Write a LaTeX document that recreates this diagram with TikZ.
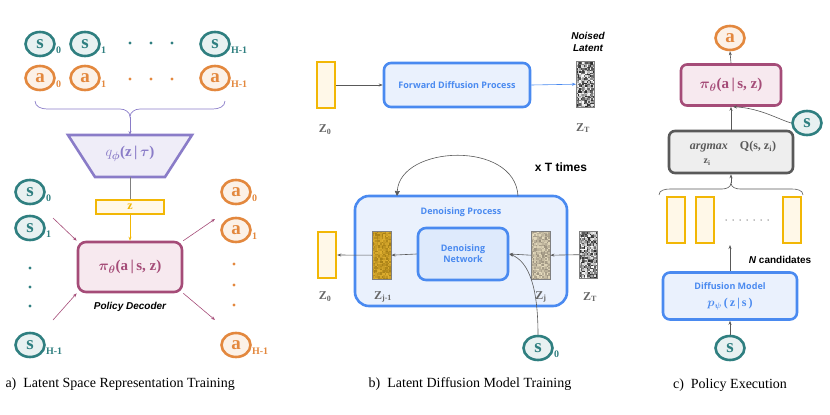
\documentclass[tikz,border=0pt]{standalone}
\usepackage{amsmath}
\usepackage{fontspec}
\setmainfont{Liberation Serif}
\newfontfamily\sansf{Open Sans}
\newfontfamily\arialf{Liberation Sans}
\usetikzlibrary{arrows.meta,shapes.geometric}
\definecolor{teal}{HTML}{2F7F80}\definecolor{tealf}{HTML}{E8F1F1}
\definecolor{org}{HTML}{E3883E}\definecolor{orgf}{HTML}{FCF1E7}
\definecolor{purp}{HTML}{8A7CC8}\definecolor{purpf}{HTML}{EFEDF8}
\definecolor{yel}{HTML}{F2B705}\definecolor{yelf}{HTML}{FFF8E8}
\definecolor{pink}{HTML}{A54C78}\definecolor{pinkf}{HTML}{F7E9EF}
\definecolor{blu}{HTML}{4A8AF0}\definecolor{bluf}{HTML}{EAF1FD}
\definecolor{gryf}{HTML}{EEEEEE}
\definecolor{gold}{HTML}{E0B030}\definecolor{golddk}{HTML}{9A7410}
\definecolor{beige}{HTML}{E8DEC0}\definecolor{beigedk}{HTML}{8A8070}
\newcommand\noiseimg[7]{% x y w h light dark name
  \foreach \i in {0,...,11}{\foreach \j in {0,...,31}{%
    \pgfmathsetmacro\rr{int(rnd*85)}%
    \fill[#6!\rr!#5] ({#1+\i*#3/12},{#2+\j*#4/32}) rectangle ++({#3/12+0.05},{#4/32+0.05});}}%
  \node[draw=gray,line width=0.4pt,minimum width=#3pt,minimum height=#4pt,anchor=north west,inner sep=0] (#7) at (#1,#2) {};}
\tikzset{
 sn/.style={ellipse,draw=teal,fill=tealf,line width=2.6pt,minimum width=29pt,minimum height=24pt,inner sep=0,text=teal,font=\bfseries\fontsize{19}{19}\selectfont},
 an/.style={ellipse,draw=org,fill=orgf,line width=2.6pt,minimum width=29pt,minimum height=24pt,inner sep=0,text=org,font=\bfseries\fontsize{19}{19}\selectfont},
 ssub/.style={anchor=west,text=teal,font=\bfseries\normalsize,inner sep=0},
 asub/.style={anchor=west,text=org,font=\bfseries\normalsize,inner sep=0},
 dt/.style={circle,fill=#1,inner sep=0,minimum size=3.4pt},
 ar/.style={-{Stealth[length=4pt,width=3pt]},line width=0.6pt},
 zbar/.style={draw=yel,fill=yelf,line width=2.4pt,minimum width=18pt,minimum height=46pt,inner sep=0},
 zlab/.style={text=gray!80!black,font=\bfseries\large},
 captxt/.style={font=\fontsize{14}{16}\selectfont},
 mth/.style={font=\fontsize{15}{15}\selectfont},
}
\begin{document}
\begin{tikzpicture}[x=1pt,y=-1pt]
\useasboundingbox (0,0) rectangle (830,415);
\pgfmathsetseed{7}
%%%%% Panel a
\foreach \n/\x/\t in {0/40/0,1/85/1,H/215/H-1}{
  \node[sn] (s\n) at (\x,44) {s};
  \node[ssub] (ss\n) at ([xshift=0pt,yshift=-6pt]s\n.east) {\t};
  \node[an] (a\n) at (\x,78) {a};
  \node[asub] (as\n) at ([xshift=0pt,yshift=-6pt]a\n.east) {\t};}
\foreach \x [count=\k] in {130,151,172}{\node[dt=teal] (ds\k) at (\x,43){};\node[dt=org] (da\k) at (\x,79){};}
\draw[purp,line width=0.7pt] (35,101) to[out=-90,in=180] (47,109) -- (120,109) to[out=0,in=90] (130,117) to[out=90,in=180] (140,109) -- (213,109) to[out=0,in=-90] (225,101);
\coordinate (bt) at (130,117);
\draw[draw=purp,fill=purpf,line width=2.6pt,line join=miter] (68,135) -- (192,135) -- (165,177) -- (95,177) -- cycle;
\coordinate (encN) at (130,135);\coordinate (encS) at (130,177);
\node[text=purp,mth] (encl) at (130,154) {$q_{\boldsymbol\phi}$\textbf{(z\,|\,}$\boldsymbol\tau$\textbf{)}};
\draw[ar,purp] (bt) -- (encN);
\node[draw=yel,fill=yelf,line width=2.4pt,minimum width=68pt,minimum height=14pt,inner sep=0,text=yel,font=\bfseries\large] (zz) at (130,207) {z};
\draw[gray,line width=0.6pt] (encS) -- (zz.north);
\node[draw=pink,fill=pinkf,line width=2.6pt,rounded corners=8pt,minimum width=104pt,minimum height=50pt,text=pink,mth] (pol) at (130,267) {{\boldmath$\pi_\theta$}\textbf{(a\,|\,s, z)}};
\draw[ar,yel] (zz.south) -- (pol.north);
\node[font=\arialf\bfseries\itshape] (pdl) at (130,307) {Policy Decoder};
\node[sn] (ls0) at (30,192) {s};\node[ssub] (lss0) at ([yshift=-6pt]ls0.east){0};
\node[sn] (ls1) at (30,228) {s};\node[ssub] (lss1) at ([yshift=-6pt]ls1.east){1};
\node[sn] (lsH) at (30,345) {s};\node[ssub] (lssH) at ([yshift=-6pt]lsH.east){H-1};
\node[an] (ra0) at (236,192) {a};\node[asub] (ras0) at ([yshift=-6pt]ra0.east){0};
\node[an] (ra1) at (236,230) {a};\node[asub] (ras1) at ([yshift=-6pt]ra1.east){1};
\node[an] (raH) at (236,345) {a};\node[asub] (rasH) at ([yshift=-6pt]raH.east){H-1};
\foreach \y [count=\k] in {268,287,306}{\node[dt=teal] (lds\k) at (30,\y){};}
\foreach \y [count=\k] in {264,285,305}{\node[dt=org] (rda\k) at (234,\y){};}
\coordinate (p1) at (53,218);\coordinate (p2) at (53,320);\coordinate (p3) at (215,219);\coordinate (p4) at (215,320);
\draw[ar,pink] (p1) -- (pol.north west);
\draw[ar,pink] (p2) -- (pol.south west);
\draw[ar,pink] (pol.north east) -- (p3);
\draw[ar,pink] (pol.south east) -- (p4);
\node[captxt,anchor=west] (capa) at (2,384) {a)\ \ Latent Space Representation Training};
%%%%% Panel b
\node[zbar] (z0a) at (326,85) {};
\node[zlab] (z0al) at (325,130) {Z\textsubscript{0}};
\node[draw=blu,fill=bluf,line width=2.6pt,rounded corners=7pt,minimum width=146pt,minimum height=44pt,text=blu,font=\sansf\bfseries\small] (fwd) at (457,85) {Forward Diffusion Process};
\noiseimg{576}{61}{18}{46}{white}{black}{nT}
\node[font=\arialf\bfseries\itshape,align=center] (nl) at (588,42) {Noised\\Latent};
\node[zlab] (zTal) at (583,128) {Z\textsubscript{T}};
\draw[ar,gray!70!black] (z0a.east) -- (fwd.west);
\draw[ar,blu] (fwd.east) -- (nT.west);
\node[draw=blu,fill=bluf,line width=2.6pt,rounded corners=14pt,minimum width=212pt,minimum height=110pt] (dp) at (461,251) {};
\node[text=blu,font=\sansf\bfseries\small] (dpl) at (461,212) {Denoising Process};
\node[draw=blu,fill=blu!18!white,line width=2.6pt,rounded corners=8pt,minimum width=90pt,minimum height=52pt,text=blu,font=\sansf\bfseries\small,align=center] (dn) at (463,254) {Denoising\\Network};
\node[zbar] (z0b) at (327,255) {};
\noiseimg{372}{231}{19}{48}{gold}{golddk}{zj1}
\noiseimg{531}{231}{19}{48}{beige}{beigedk}{zj}
\noiseimg{579}{231}{18}{47}{white}{black}{zT2}
\node[zlab] (l1) at (325,297) {Z\textsubscript{0}};
\node[zlab] (l2) at (383,297) {Z\textsubscript{j-1}};
\node[zlab] (l3) at (541,297) {Z\textsubscript{j}};
\node[zlab] (l4) at (590,297) {Z\textsubscript{T}};
\draw[ar,gray!70!black] (zT2.west) -- (zj.east);
\draw[ar,gray!70!black] (zj.west) -- (dn.east);
\draw[ar,gray!70!black] (dn.west) -- (zj1.east);
\draw[ar,gray!70!black] (zj1.west) -- (z0b.east);
\coordinate (lp1) at (518,196);\coordinate (lp2) at (397,196);
\draw[-{Triangle[length=5pt,width=5pt]},gray!70!black,line width=0.6pt] (lp1) .. controls (515,140) and (400,145) .. (lp2);
\node[font=\arialf\bfseries\large] (xt) at (561,167) {x T times};
\node[sn] (bs0) at (538,348) {s};\node[ssub] (bss0) at ([yshift=-6pt]bs0.east){0};
\draw[ar,gray!70!black] (bs0.north) .. controls (538,290) and (530,262) .. (dn.east);
\node[captxt] (capb) at (470,384) {b)\ \ Latent Diffusion Model Training};
%%%%% Panel c
\node[an] (ca) at (730,38) {a};
\node[draw=pink,fill=pinkf,line width=2.6pt,rounded corners=6pt,minimum width=100pt,minimum height=41pt,text=pink,mth] (cpol) at (731,85) {{\boldmath$\pi_\theta$}\textbf{(a\,|\,s, z)}};
\node[sn] (cs) at (807,123) {s};
\node[draw=gray!70!black,fill=gryf,line width=2.6pt,rounded corners=6pt,minimum width=124pt,minimum height=42pt] (am) at (731,152) {};
\node[text=gray!70!black,font=\large] (amt) at (733,147) {\textbf{\textit{argmax}}\quad \textbf{Q(s, z\textsubscript{i})}};
\node[text=gray!70!black,font=\normalsize\bfseries] (amz) at (707,162) {z\textsubscript{i}};
\draw[ar,gray!70!black] (cpol.north) -- (ca.south);
\draw[ar,gray!70!black] (am.north) -- (cpol.south);
\draw[ar,gray!70!black] (cs.west) .. controls (780,120) and (760,108) .. ([xshift=2pt]cpol.south);
\draw[gray!70!black,line width=0.6pt] (659,195) to[out=90,in=180] (670,189) -- (722,189) to[out=0,in=-90] (731,183) to[out=-90,in=180] (740,189) -- (792,189) to[out=0,in=90] (803,195);
\coordinate (cb) at (731,183);
\draw[ar,gray!70!black] (cb) -- (am.south);
\node[zbar] (c1) at (676,220) {};
\node[zbar] (c2) at (705,220) {};
\node[zbar] (c3) at (792,220) {};
\foreach \x [count=\k] in {726,733,740,747,754,761,768}{\node[circle,fill=gray,inner sep=0,minimum size=1.5pt] (cd\k) at (\x,220){};}
\node[draw=blu,fill=bluf,line width=2.6pt,rounded corners=7pt,minimum width=134pt,minimum height=47pt] (dm) at (730,296) {};
\node[text=blu,font=\sansf\bfseries\small] (dml) at (730,286) {Diffusion Model};
\node[text=blu,font=\large] (dmf) at (730,304) {$\boldsymbol{p_\psi}$\,\textbf{(\,z\,|\,s\,)}};
\coordinate (cz) at (730,245);
\draw[ar,gray!70!black] (dm.north) -- (cz);
\node[font=\arialf\bfseries] (nc) at (780,260) {\textit{N} candidates};
\node[sn] (cs2) at (730,348) {s};
\draw[ar,gray!70!black] (cs2.north) -- (dm.south);
\node[captxt] (capc) at (730,385) {c)\ \ Policy Execution};
\end{tikzpicture}
\end{document}
